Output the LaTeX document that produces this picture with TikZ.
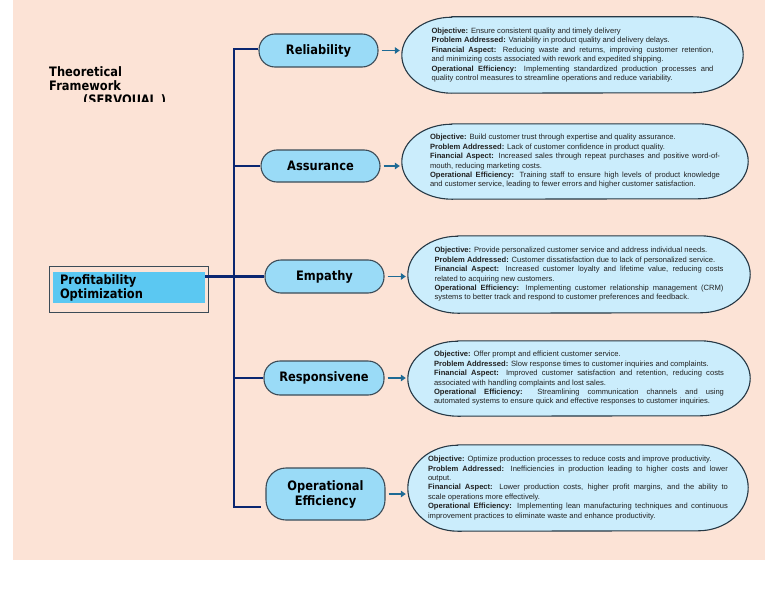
\documentclass[tikz,border=0pt]{standalone}
\usepackage{fontspec}
\setmainfont{Liberation Sans}
\newfontfamily\hfont[FakeStretch=0.88]{DejaVu Sans}
\usetikzlibrary{arrows.meta}
\setlength{\parindent}{0pt}
\definecolor{peach}{HTML}{FCE3D6}
\definecolor{pillfill}{HTML}{9ADBF7}
\definecolor{pillline}{HTML}{3B4B57}
\definecolor{elfill}{HTML}{CBEDFC}
\definecolor{elline}{HTML}{263845}
\definecolor{navy}{HTML}{0A2670}
\definecolor{arrc}{HTML}{1E6A94}
\definecolor{boxfill}{HTML}{5BC8F2}
\definecolor{eltext}{HTML}{222222}
\pgfdeclarelayer{bg}
\pgfsetlayers{bg,main}
\newcommand\blob[2]{%
  \begin{pgfonlayer}{bg}
  \draw[elshape] ([xshift=50pt]#1.north west) -- ([xshift=-50pt]#1.north east)
    arc[start angle=90,end angle=-90,x radius=50pt,y radius=#2pt]
    -- ([xshift=50pt]#1.south west)
    arc[start angle=270,end angle=90,x radius=50pt,y radius=#2pt] -- cycle;
  \end{pgfonlayer}}
\begin{document}
\begin{tikzpicture}[x=1pt,y=-1pt,
  pill/.style={draw=pillline, fill=pillfill, line width=1.1pt, rounded corners=16pt,
    minimum width=119pt, minimum height=33pt, inner sep=0pt, align=center,
    font=\hfont\bfseries\fontsize{13}{15}\selectfont},
  ell/.style={inner sep=0pt, align=justify, text=eltext,
    font=\fontsize{7.6}{9.4}\selectfont},
  elshape/.style={draw=elline, fill=elfill, line width=1.1pt},
  head/.style={font=\hfont\bfseries\fontsize{13}{14}\selectfont, inner sep=0pt},
  trunk/.style={draw=navy, line width=2.5pt, line join=miter},
  arr/.style={draw=arrc, line width=1.8pt, shorten <=3pt, shorten >=2pt,
    -{Triangle[length=5pt,width=6.5pt]}}
]
\useasboundingbox (0,0) rectangle (768,594);
\begin{pgfonlayer}{bg}
\fill[white] (0,0) rectangle (768,594);
\fill[peach] (13,0) rectangle (765,560);
\end{pgfonlayer}

% title
\node[head, anchor=base west] (t1) at (49,76) {Theoretical};
\node[head, anchor=base west] (t2) at (49,90) {Framework};
\begin{scope}
\clip (0,0) rectangle (768,101.5);
\node[head, anchor=base west] (t3) at (83,104) {(SERVQUAL )};
\end{scope}

% profitability box
\node[draw=pillline, line width=1pt, minimum width=159pt, minimum height=46pt] (prof) at (128.5,289) {};
\node[fill=boxfill, minimum width=152pt, minimum height=31pt, text width=138pt, inner sep=0pt,
  align=left, head, font=\hfont\bfseries\fontsize{13}{14}\selectfont] (profin) at (129,287.5) {Profitability\\Optimization};

% pills
\node[pill] (rel) at (318.5,50.5) {Reliability};
\node[pill, minimum height=32pt] (as) at (320.5,166) {Assurance};
\node[pill] (emp) at (324.5,276.5) {Empathy};
\node[pill, minimum width=120pt, minimum height=34pt] (resp) at (324,378) {Responsivene};
\node[pill, minimum height=52pt, rounded corners=20pt] (op) at (325.5,494) {Operational\\Efficiency};

% trunk
\coordinate (ttop) at (234,49);
\coordinate (tbot) at (234,507);
\coordinate (opb) at (261,507);
\draw[trunk] (ttop -| rel.west) -- (ttop) -- (tbot) -- (opb);
\draw[trunk] (ttop |- as.west) -- (as.west);
\draw[trunk] (profin.east |- emp.west) -- (emp.west);
\draw[trunk] (ttop |- resp.west) -- (resp.west);

% ellipses
\node[ell, minimum width=341pt, minimum height=76pt, text width=282pt] (e1) at (572.5,55) {%
\textbf{Objective:} Ensure consistent quality and timely delivery\par
\textbf{Problem Addressed:} Variability in product quality and delivery delays.\par
\textbf{Financial Aspect:} Reducing waste and returns, improving customer retention,\linebreak
and minimizing costs associated with rework and expedited shipping.\par
\textbf{Operational Efficiency:} Implementing standardized production processes and\linebreak
quality control measures to streamline operations and reduce variability.};
\blob{e1}{38}

\node[ell, minimum width=346pt, minimum height=75pt, text width=290pt] (e2) at (575,161.5) {%
\textbf{Objective:} Build customer trust through expertise and quality assurance.\par
\textbf{Problem Addressed:} Lack of customer confidence in product quality.\par
\textbf{Financial Aspect:} Increased sales through repeat purchases and positive word-of-\linebreak
mouth, reducing marketing costs.\par
\textbf{Operational Efficiency:} Training staff to ensure high levels of product knowledge\linebreak
and customer service, leading to fewer errors and higher customer satisfaction.};
\blob{e2}{37.5}

\node[ell, minimum width=342pt, minimum height=77pt, text width=289pt] (e3) at (579,274.5) {%
\textbf{Objective:} Provide personalized customer service and address individual needs.\par
\textbf{Problem Addressed:} Customer dissatisfaction due to lack of personalized service.\par
\textbf{Financial Aspect:} Increased customer loyalty and lifetime value, reducing costs\linebreak
related to acquiring new customers.\par
\textbf{Operational Efficiency:} Implementing customer relationship management (CRM)\linebreak
systems to better track and respond to customer preferences and feedback.};
\blob{e3}{38.5}

\node[ell, minimum width=342pt, minimum height=75pt, text width=290pt] (e4) at (579,378.5) {%
\textbf{Objective:} Offer prompt and efficient customer service.\par
\textbf{Problem Addressed:} Slow response times to customer inquiries and complaints.\par
\textbf{Financial Aspect:} Improved customer satisfaction and retention, reducing costs\linebreak
associated with handling complaints and lost sales.\par
\textbf{Operational Efficiency:} Streamlining communication channels and using\linebreak
automated systems to ensure quick and effective responses to customer inquiries.};
\blob{e4}{37.5}

\node[ell, minimum width=340pt, minimum height=86pt, text width=300pt] (e5) at (578,488) {%
\textbf{Objective:} Optimize production processes to reduce costs and improve productivity.\par
\textbf{Problem Addressed:} Inefficiencies in production leading to higher costs and lower\linebreak
output.\par
\textbf{Financial Aspect:} Lower production costs, higher profit margins, and the ability to\linebreak
scale operations more effectively.\par
\textbf{Operational Efficiency:} Implementing lean manufacturing techniques and continuous\linebreak
improvement practices to eliminate waste and enhance productivity.};
\blob{e5}{43}

% arrows
\draw[arr] (rel.east) -- (e1.west |- rel.east);
\draw[arr] (as.east) -- (e2.west |- as.east);
\draw[arr] (emp.east) -- (e3.west |- emp.east);
\draw[arr] (resp.east) -- (e4.west |- resp.east);
\draw[arr] (op.east) -- (e5.west |- op.east);
\end{tikzpicture}
\end{document}
